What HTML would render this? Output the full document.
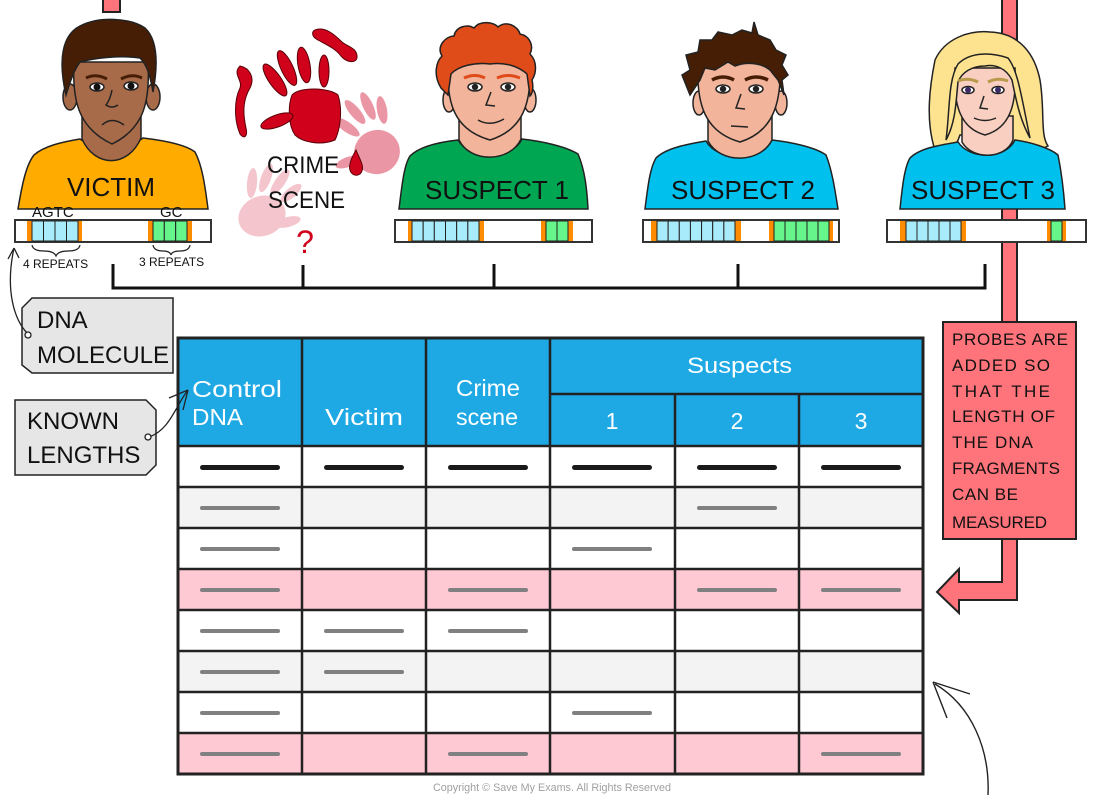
<!DOCTYPE html>
<html><head><meta charset="utf-8"><style>
html,body{margin:0;padding:0;background:#fff;}
svg{display:block;}
text{font-family:"Liberation Sans",Arial,sans-serif;}
</style></head><body>
<svg width="1100" height="795" viewBox="0 0 1100 795" xmlns="http://www.w3.org/2000/svg">
<rect width="1100" height="795" fill="#fff"/>

<!-- red bars / probe box -->
<rect x="103" y="-3" width="17" height="15" fill="#ff737a" stroke="#222" stroke-width="2"/>
<rect x="1002" y="-3" width="15" height="326" fill="#ff737a" stroke="#222" stroke-width="2"/>
<path d="M1002,538 L1002,582 L959,582 L959,569 L937,592 L959,613 L959,600 L1017,600 L1017,538 Z" fill="#ff737a" stroke="#222" stroke-width="2"/>
<rect x="943" y="322" width="133" height="217" fill="#ff737a" stroke="#222" stroke-width="2"/>
<g font-size="17" fill="#111">
<text x="952" y="345" textLength="116" lengthAdjust="spacing">PROBES ARE</text>
<text x="952" y="371" textLength="98" lengthAdjust="spacing">ADDED SO</text>
<text x="952" y="397" textLength="98" lengthAdjust="spacing">THAT THE</text>
<text x="952" y="422" textLength="103" lengthAdjust="spacing">LENGTH OF</text>
<text x="952" y="448" textLength="81" lengthAdjust="spacing">THE DNA</text>
<text x="952" y="474" textLength="108" lengthAdjust="spacing">FRAGMENTS</text>
<text x="952" y="500" textLength="66" lengthAdjust="spacing">CAN BE</text>
<text x="952" y="528" textLength="95" lengthAdjust="spacing">MEASURED</text>
</g>

<!-- bracket connector -->
<path d="M113,264 L113,288 L985,288 L985,264 M303,265 L303,288 M494,264 L494,288 M738,264 L738,288" fill="none" stroke="#111" stroke-width="3"/>

<!-- VICTIM -->
<g stroke="#222" stroke-width="1.5">
<path d="M18,209 C22,185 26,165 34,155 C44,146 62,142 80,139 C95,150 128,150 143,138 C160,140 185,144 195,152 C202,165 205,185 208,209 Z" fill="#ffab00"/>
<path d="M82,110 L82,139 C95,168 128,168 141,138 L141,110 Z" fill="#a86b4a"/>
<ellipse cx="70" cy="97" rx="7" ry="13" fill="#a86b4a"/>
<ellipse cx="153" cy="97" rx="7" ry="13" fill="#a86b4a"/>
<path d="M74,62 C72,100 78,128 112,144 C145,128 150,100 148,62 Z" fill="#a86b4a"/>
<path d="M66,95 C58,60 62,35 80,26 C100,16 130,18 145,28 C158,40 158,65 153,92 C150,75 147,65 140,58 C120,55 95,58 80,62 C74,70 70,82 66,95 Z" fill="#461e05"/>
<ellipse cx="97" cy="87" rx="7" ry="4" fill="#fff"/>
<ellipse cx="131" cy="86" rx="7" ry="4" fill="#fff"/>
</g>
<circle cx="97" cy="87" r="3.5" fill="#111"/><circle cx="131" cy="86" r="3.5" fill="#111"/>
<path d="M86,78 Q96,73 107,79 M121,79 Q132,73 142,78" stroke="#461e05" stroke-width="3" fill="none"/>
<path d="M112,90 Q110,100 106,105 Q112,109 118,105 M102,125 Q112,116 124,125" stroke="#222" stroke-width="1.5" fill="none"/>
<text x="111" y="196" font-size="26" text-anchor="middle" fill="#111">VICTIM</text>

<!-- CRIME SCENE hands -->
<g fill="#f4c5cc">
<ellipse cx="262" cy="216" rx="24" ry="20" transform="rotate(-20 262 216)"/>
<ellipse cx="252" cy="183" rx="5" ry="15" transform="rotate(5 252 183)"/>
<ellipse cx="266" cy="178" rx="5" ry="15" transform="rotate(20 266 178)"/>
<ellipse cx="280" cy="182" rx="5" ry="15" transform="rotate(35 280 182)"/>
<ellipse cx="291" cy="193" rx="5" ry="13" transform="rotate(50 291 193)"/>
<ellipse cx="288" cy="222" rx="5" ry="13" transform="rotate(75 288 222)"/>
</g>
<g fill="#eb96a4">
<ellipse cx="377" cy="152" rx="23" ry="22" transform="rotate(-20 377 152)"/>
<ellipse cx="347" cy="127" rx="5" ry="15" transform="rotate(-55 347 127)"/>
<ellipse cx="355" cy="112" rx="5" ry="15" transform="rotate(-40 355 112)"/>
<ellipse cx="368" cy="106" rx="5" ry="15" transform="rotate(-25 368 106)"/>
<ellipse cx="382" cy="110" rx="5" ry="14" transform="rotate(-10 382 110)"/>
<ellipse cx="348" cy="162" rx="5" ry="13" transform="rotate(70 348 162)"/>
</g>
<g fill="#d0021b" stroke="#5a0008" stroke-width="1">
<path d="M292,95 C300,86 330,88 338,95 C343,110 340,130 335,140 C320,146 302,142 295,135 C288,125 288,105 292,95 Z"/>
<ellipse cx="275" cy="80" rx="6" ry="19" transform="rotate(-35 275 80)"/>
<ellipse cx="287" cy="68" rx="6" ry="19" transform="rotate(-25 287 68)"/>
<ellipse cx="304" cy="65" rx="6" ry="18" transform="rotate(-10 304 65)"/>
<ellipse cx="324" cy="71" rx="5" ry="16" transform="rotate(0 324 71)"/>
<ellipse cx="277" cy="121" rx="6" ry="17" transform="rotate(70 277 121)"/>
<path d="M315,30 C325,26 335,35 342,42 C348,47 358,48 357,58 C355,64 346,62 341,56 C335,48 325,44 318,40 C312,37 311,32 315,30 Z"/>
<path d="M240,66 C250,68 255,78 250,88 C244,98 242,110 246,128 C248,136 244,140 240,134 C234,120 234,100 240,88 C243,80 232,74 240,66 Z"/>
<path d="M356,150 C360,160 366,168 360,174 C354,178 348,172 350,164 C351,158 354,154 356,150 Z"/>
</g>
<text x="267" y="173" font-size="24" fill="#111" textLength="72" lengthAdjust="spacingAndGlyphs">CRIME</text>
<text x="268" y="208" font-size="24" fill="#111" textLength="77" lengthAdjust="spacingAndGlyphs">SCENE</text>
<text x="305" y="253" font-size="32" fill="#d0021b" text-anchor="middle">?</text>

<!-- SUSPECT 1 -->
<g stroke="#222" stroke-width="1.5">
<path d="M399,209 C402,185 404,165 410,156 C420,146 440,142 458,140 C470,160 512,160 522,139 C540,141 565,146 578,154 C585,170 587,190 588,209 Z" fill="#00a651"/>
<path d="M459,108 L459,140 C470,163 510,163 521,139 L521,108 Z" fill="#f2b59b"/>
<ellipse cx="449" cy="100" rx="6" ry="12" fill="#f2b59b"/>
<ellipse cx="530" cy="100" rx="6" ry="12" fill="#f2b59b"/>
<path d="M448,62 C446,105 455,130 490,140 C522,130 532,105 530,62 Z" fill="#f2b59b"/>
<path d="M441,88 C433,75 436,62 442,56 C436,46 446,36 454,36 C456,26 468,24 474,28 C480,20 494,22 498,27 C506,20 518,26 520,34 C530,36 534,46 530,54 C538,62 536,74 532,80 C534,88 532,94 530,96 L527,74 C518,66 505,62 490,64 C475,62 458,66 451,74 L448,95 Z" fill="#e04b1a"/>
<ellipse cx="475" cy="87" rx="7" ry="4" fill="#fff"/>
<ellipse cx="508" cy="87" rx="7" ry="4" fill="#fff"/>
</g>
<circle cx="475" cy="87" r="3.2" fill="#222"/><circle cx="508" cy="87" r="3.2" fill="#222"/>
<path d="M464,78 Q475,73 485,78 M497,78 Q508,73 520,78" stroke="#e04b1a" stroke-width="3" fill="none"/>
<path d="M491,92 L486,105 L495,106 M478,120 Q490,127 504,119" stroke="#222" stroke-width="1.5" fill="none"/>
<text x="497" y="199" font-size="26" text-anchor="middle" fill="#111">SUSPECT 1</text>

<!-- SUSPECT 2 -->
<g stroke="#222" stroke-width="1.5">
<path d="M645,209 C648,185 650,168 656,158 C666,148 688,144 706,141 C718,162 760,162 772,140 C790,142 815,147 826,155 C832,170 835,190 838,209 Z" fill="#00c0ee"/>
<path d="M708,108 L708,141 C720,164 760,164 772,140 L772,108 Z" fill="#f2b59b"/>
<ellipse cx="699" cy="103" rx="6" ry="12" fill="#f2b59b"/>
<ellipse cx="781" cy="103" rx="6" ry="12" fill="#f2b59b"/>
<path d="M698,62 C696,105 705,132 740,142 C772,132 782,105 780,62 Z" fill="#f2b59b"/>
<path d="M690,95 L682,75 L690,70 L686,55 L698,52 L700,40 L712,40 L718,32 L732,35 L742,30 L752,33 L754,22 L758,35 L770,40 L776,50 L786,55 L782,65 L788,75 L782,80 L784,95 L778,80 L770,70 C760,62 745,62 735,66 L728,62 L715,70 L705,68 L700,80 Z" fill="#461e05"/>
<ellipse cx="723" cy="89" rx="7" ry="4" fill="#fff"/>
<ellipse cx="756" cy="89" rx="7" ry="4" fill="#fff"/>
</g>
<circle cx="723" cy="89" r="3.2" fill="#222"/><circle cx="756" cy="89" r="3.2" fill="#222"/>
<path d="M712,80 Q723,74 734,80 M745,80 Q756,74 768,80" stroke="#461e05" stroke-width="3.5" fill="none"/>
<path d="M741,94 L736,108 L745,109 M731,126 L748,127" stroke="#222" stroke-width="1.5" fill="none"/>
<text x="743" y="199" font-size="26" text-anchor="middle" fill="#111">SUSPECT 2</text>

<!-- SUSPECT 3 -->
<g stroke="#222" stroke-width="1.5">
<path d="M935,150 C925,120 930,85 935,60 C945,38 970,30 990,32 C1020,33 1035,55 1040,80 C1045,110 1040,135 1048,146 C1040,150 1030,152 1025,148 L1020,162 C1010,150 1005,140 1000,135 L960,135 C955,150 945,160 938,165 Z" fill="#fde28f"/>
<path d="M900,209 C902,190 904,168 910,158 C920,148 940,145 958,142 C970,160 1005,160 1015,140 C1030,142 1050,148 1058,155 C1062,175 1064,195 1065,209 Z" fill="#00c0ee"/>
<path d="M962,116 L962,142 C972,160 1005,160 1013,140 L1013,116 Z" fill="#f8cfc0"/>
<path d="M955,68 C953,105 960,128 985,135 C1010,128 1017,105 1015,68 Z" fill="#f8cfc0"/>
<path d="M946,140 C950,110 948,80 958,64 C970,52 990,52 1008,58 C1018,70 1022,100 1030,138 C1020,120 1016,100 1012,80 C1006,68 995,64 985,66 C972,66 962,72 958,82 C956,100 956,122 946,140 Z" fill="#fde28f"/>
<ellipse cx="968" cy="90" rx="6" ry="3.5" fill="#fff"/>
<ellipse cx="998" cy="90" rx="6" ry="3.5" fill="#fff"/>
</g>
<circle cx="968" cy="90" r="3" fill="#3a2a66"/><circle cx="998" cy="90" r="3" fill="#3a2a66"/>
<path d="M958,81 Q968,77 978,82 M988,82 Q998,77 1008,81" stroke="#b89a4a" stroke-width="3" fill="none"/>
<path d="M984,96 L980,108 L988,109 M974,118 Q985,123 996,118" stroke="#222" stroke-width="1.5" fill="none"/>
<text x="983" y="199" font-size="26" text-anchor="middle" fill="#111">SUSPECT 3</text>

<!-- DNA bars -->
<g stroke="#333" stroke-width="2" fill="#fff">
<rect x="15" y="220" width="196" height="22"/>
<rect x="395" y="220" width="197" height="22"/>
<rect x="643" y="220" width="196" height="22"/>
<rect x="887" y="220" width="199" height="22"/>
</g>
<g fill="#ff8c00">
<rect x="27" y="221" width="5" height="20"/><rect x="78" y="221" width="4" height="20"/>
<rect x="148" y="221" width="5" height="20"/><rect x="187" y="221" width="5" height="20"/>
<rect x="408" y="221" width="4" height="20"/><rect x="479" y="221" width="5" height="20"/>
<rect x="541" y="221" width="5" height="20"/><rect x="568" y="221" width="5" height="20"/>
<rect x="651" y="221" width="6" height="20"/><rect x="735" y="221" width="6" height="20"/>
<rect x="769" y="221" width="5" height="20"/><rect x="829" y="221" width="4" height="20"/>
<rect x="900" y="221" width="6" height="20"/><rect x="961" y="221" width="5" height="20"/>
<rect x="1047" y="221" width="4" height="20"/><rect x="1062" y="221" width="4" height="20"/>
</g>
<g fill="#a8ecfb" stroke="#222" stroke-width="1">
<rect x="32" y="221" width="11.5" height="20"/><rect x="43.5" y="221" width="11.5" height="20"/><rect x="55" y="221" width="11.5" height="20"/><rect x="66.5" y="221" width="11.5" height="20"/>
<rect x="412" y="221" width="11.17" height="20"/><rect x="423.17" y="221" width="11.17" height="20"/><rect x="434.33" y="221" width="11.17" height="20"/><rect x="445.5" y="221" width="11.17" height="20"/><rect x="456.67" y="221" width="11.17" height="20"/><rect x="467.83" y="221" width="11.17" height="20"/>
<rect x="657" y="221" width="11.14" height="20"/><rect x="668.14" y="221" width="11.14" height="20"/><rect x="679.29" y="221" width="11.14" height="20"/><rect x="690.43" y="221" width="11.14" height="20"/><rect x="701.57" y="221" width="11.14" height="20"/><rect x="712.71" y="221" width="11.14" height="20"/><rect x="723.86" y="221" width="11.14" height="20"/>
<rect x="906" y="221" width="11" height="20"/><rect x="917" y="221" width="11" height="20"/><rect x="928" y="221" width="11" height="20"/><rect x="939" y="221" width="11" height="20"/><rect x="950" y="221" width="11" height="20"/>
</g>
<g fill="#66f58a" stroke="#222" stroke-width="1">
<rect x="153" y="221" width="11.33" height="20"/><rect x="164.33" y="221" width="11.33" height="20"/><rect x="175.67" y="221" width="11.33" height="20"/>
<rect x="546" y="221" width="11" height="20"/><rect x="557" y="221" width="11" height="20"/>
<rect x="774" y="221" width="11" height="20"/><rect x="785" y="221" width="11" height="20"/><rect x="796" y="221" width="11" height="20"/><rect x="807" y="221" width="11" height="20"/><rect x="818" y="221" width="11" height="20"/>
<rect x="1051" y="221" width="11" height="20"/>
</g>
<text x="32" y="217" font-size="15" fill="#111">AGTC</text>
<text x="160" y="217" font-size="15" fill="#111">GC</text>
<path d="M32,245 Q33,251 44,251 Q54,251 56,256 Q58,251 68,251 Q79,251 80,245 M153,245 Q154,251 163,251 Q170,251 171,255 Q172,251 180,251 Q189,251 190,245" fill="none" stroke="#222" stroke-width="1.2"/>
<text x="23" y="268" font-size="12" fill="#111">4 REPEATS</text>
<text x="139" y="266" font-size="12" fill="#111">3 REPEATS</text>

<!-- label tags -->
<path d="M32,298 L173,298 L173,373 L32,373 L22,365 L22,308 Z" fill="#e6e6e6" stroke="#222" stroke-width="1.5"/>
<text x="37" y="328" font-size="24" fill="#111">DNA</text>
<text x="37" y="363" font-size="24" fill="#111">MOLECULE</text>
<path d="M15,400 L146,400 L156,410 L156,465 L146,475 L15,475 Z" fill="#e6e6e6" stroke="#222" stroke-width="1.5"/>
<text x="27" y="429" font-size="24" fill="#111">KNOWN</text>
<text x="27" y="463" font-size="24" fill="#111">LENGTHS</text>
<path d="M28,334 C14,320 5,290 14,248 M14,248 L8,259 M14,248 L19,258" fill="none" stroke="#222" stroke-width="1.3"/>
<circle cx="28" cy="335" r="3" fill="#fff" stroke="#222" stroke-width="1.3"/>

<!-- TABLE -->
<rect x="178" y="338" width="745" height="108" fill="#1fa9e4"/>
<rect x="178" y="446" width="745" height="41" fill="#fff"/>
<rect x="178" y="487" width="745" height="41" fill="#f3f3f3"/>
<rect x="178" y="528" width="745" height="41" fill="#fff"/>
<rect x="178" y="569" width="745" height="41" fill="#ffc9d3"/>
<rect x="178" y="610" width="745" height="41" fill="#fff"/>
<rect x="178" y="651" width="745" height="41" fill="#f3f3f3"/>
<rect x="178" y="692" width="745" height="41" fill="#fff"/>
<rect x="178" y="733" width="745" height="41" fill="#ffc9d3"/>

<g fill="#1a1a1a">
<rect x="200" y="465" width="80" height="5" rx="2.5"/><rect x="324" y="465" width="80" height="5" rx="2.5"/><rect x="448" y="465" width="80" height="5" rx="2.5"/><rect x="572" y="465" width="80" height="5" rx="2.5"/><rect x="697" y="465" width="80" height="5" rx="2.5"/><rect x="821" y="465" width="80" height="5" rx="2.5"/>
</g>
<g fill="#808080">
<rect x="200" y="506" width="80" height="4" rx="2"/><rect x="697" y="506" width="80" height="4" rx="2"/>
<rect x="200" y="547" width="80" height="4" rx="2"/><rect x="572" y="547" width="80" height="4" rx="2"/>
<rect x="200" y="588" width="80" height="4" rx="2"/><rect x="448" y="588" width="80" height="4" rx="2"/><rect x="697" y="588" width="80" height="4" rx="2"/><rect x="821" y="588" width="80" height="4" rx="2"/>
<rect x="200" y="629" width="80" height="4" rx="2"/><rect x="324" y="629" width="80" height="4" rx="2"/><rect x="448" y="629" width="80" height="4" rx="2"/>
<rect x="200" y="670" width="80" height="4" rx="2"/><rect x="324" y="670" width="80" height="4" rx="2"/>
<rect x="200" y="711" width="80" height="4" rx="2"/><rect x="572" y="711" width="80" height="4" rx="2"/>
<rect x="200" y="752" width="80" height="4" rx="2"/><rect x="448" y="752" width="80" height="4" rx="2"/><rect x="821" y="752" width="80" height="4" rx="2"/>
</g>

<g stroke="#222" stroke-width="2.5" fill="none">
<path d="M178,446 H923 M178,487 H923 M178,528 H923 M178,569 H923 M178,610 H923 M178,651 H923 M178,692 H923 M178,733 H923 M550,394 H923"/>
<path d="M302,338 V774 M426,338 V774 M550,338 V774 M675,394 V774 M799,394 V774"/>
<rect x="178" y="338" width="745" height="436" stroke-width="3"/>
</g>

<g fill="#fff" font-size="23">
<text x="192" y="397" textLength="90" lengthAdjust="spacingAndGlyphs">Control</text>
<text x="192" y="425" textLength="51" lengthAdjust="spacingAndGlyphs">DNA</text>
<text x="325" y="425" textLength="78" lengthAdjust="spacingAndGlyphs">Victim</text>
<text x="456" y="396" textLength="64" lengthAdjust="spacingAndGlyphs">Crime</text>
<text x="456" y="425" textLength="62" lengthAdjust="spacingAndGlyphs">scene</text>
<text x="687" y="373" font-size="22" textLength="105" lengthAdjust="spacingAndGlyphs">Suspects</text>
<text x="612" y="429" text-anchor="middle">1</text>
<text x="737" y="429" text-anchor="middle">2</text>
<text x="861" y="429" text-anchor="middle">3</text>
</g>

<!-- known lengths arrow (over table) -->
<path d="M149,437 C170,430 176,405 188,390 M188,390 L169,398 M188,390 L183,410" fill="none" stroke="#222" stroke-width="1.3"/>
<circle cx="148" cy="437" r="3" fill="#fff" stroke="#222" stroke-width="1.3"/>

<!-- bottom right arrow -->
<path d="M935,684 C972,706 990,750 988,795 M933,682 L970,694 M933,682 L947,718" fill="none" stroke="#222" stroke-width="1.4"/>

<text x="552" y="791" font-size="11" fill="#a0a0a0" text-anchor="middle" textLength="238" lengthAdjust="spacingAndGlyphs">Copyright © Save My Exams. All Rights Reserved</text>
</svg>
</body></html>
